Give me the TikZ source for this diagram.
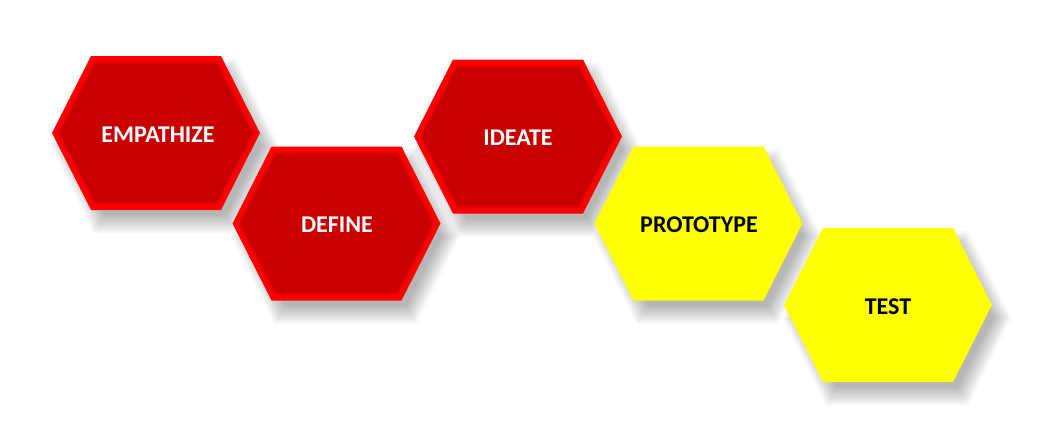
\documentclass[tikz,border=0pt]{standalone}
\usepackage{fontspec}
\setmainfont{Carlito}
\definecolor{redb0}{HTML}{FF0000}
\definecolor{redb1}{HTML}{FA0000}
\definecolor{redb2}{HTML}{EC0000}
\definecolor{redb3}{HTML}{D80000}
\definecolor{redin}{HTML}{C80000}
\definecolor{yel}{HTML}{FFFF00}
\tikzset{
  lbl/.style={font=\bfseries\fontsize{24}{28}\selectfont, inner sep=0pt},
  shadowfill/.style={fill=black, opacity=0.032},
}
% hexagon path: center (#1,#2), growth #3
\newcommand\hexpath[3]{({#1-104-(#3)},{#2}) -- ({#1-65-0.58*(#3)},{#2-77-(#3)}) -- ({#1+65+0.58*(#3)},{#2-77-(#3)}) -- ({#1+104+(#3)},{#2}) -- ({#1+65+0.58*(#3)},{#2+77+(#3)}) -- ({#1-65-0.58*(#3)},{#2+77+(#3)}) -- cycle}
\newcommand\hexshadow[2]{%
  \foreach \g in {-8,-6,...,10}{\fill[shadowfill] \hexpath{#1+9}{#2+13}{\g};}}
\newcommand\redhex[2]{%
  \hexshadow{#1}{#2}
  \fill[redb0] \hexpath{#1}{#2}{0};
  \fill[redb1] \hexpath{#1}{#2}{-3};
  \fill[redb2] \hexpath{#1}{#2}{-5.5};
  \fill[redb3] \hexpath{#1}{#2}{-7};
  \fill[redin] \hexpath{#1}{#2}{-8};}
\newcommand\yelhex[2]{%
  \hexshadow{#1}{#2}
  \fill[yel] \hexpath{#1}{#2}{0};}
\begin{document}
\begin{tikzpicture}[x=1pt,y=-1pt]
\useasboundingbox[fill=white] (0,0) rectangle (1046,442);
\redhex{156}{133}
\node[lbl,text=white] (emp) at (158,135) {EMPATHIZE};
\redhex{336.5}{223.5}
\node[lbl,text=white] (def) at (337,225) {DEFINE};
\redhex{518}{136.5}
\node[lbl,text=white] (ide) at (518,138) {IDEATE};
\yelhex{698.5}{223.5}
\node[lbl,text=black] (pro) at (699,225) {PROTOTYPE};
\yelhex{888}{305}
\node[lbl,text=black] (tst) at (888,307) {TEST};
\end{tikzpicture}
\end{document}
